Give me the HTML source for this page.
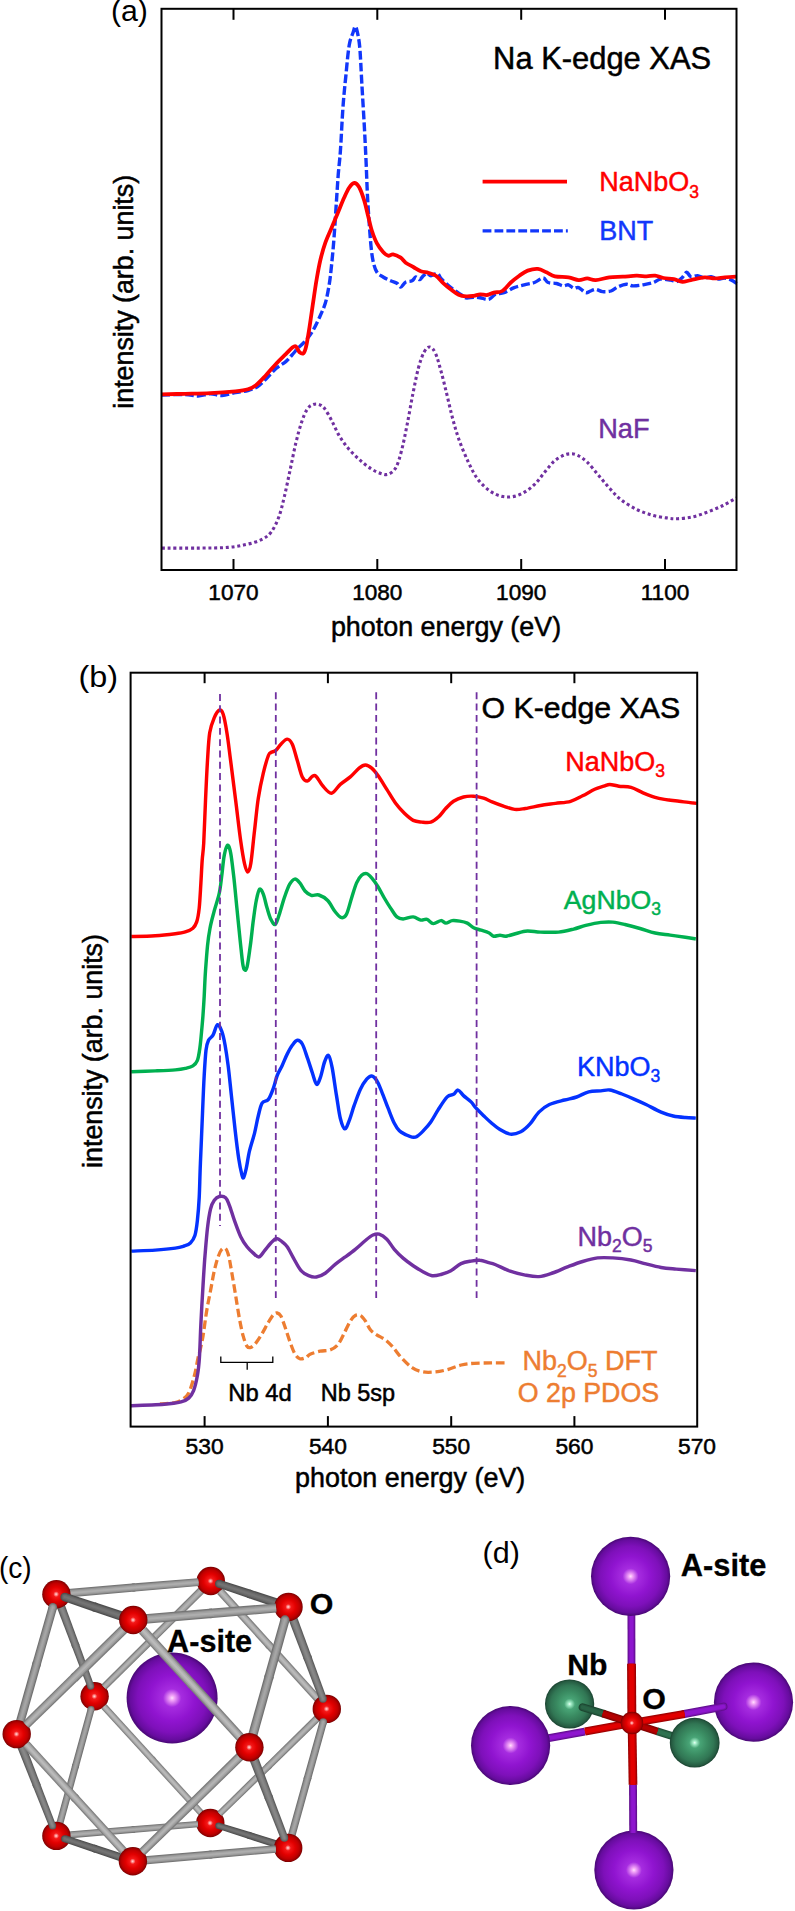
<!DOCTYPE html>
<html><head><meta charset="utf-8"><title>XAS figure</title>
<style>html,body{margin:0;padding:0;background:#fff}svg{display:block}</style></head>
<body>
<svg width="795" height="1911" viewBox="0 0 795 1911" font-family='"Liberation Sans", Arial, Helvetica, sans-serif'>
<defs>
<radialGradient id="gRed" cx="50%" cy="50%" r="50%" fx="49%" fy="50%">
<stop offset="0" stop-color="#ffd8d8"/><stop offset="0.07" stop-color="#ff9c9c"/><stop offset="0.2" stop-color="#f41818"/><stop offset="0.5" stop-color="#e20000"/><stop offset="0.78" stop-color="#c00000"/><stop offset="0.93" stop-color="#980000"/><stop offset="1" stop-color="#700000"/></radialGradient>
<radialGradient id="gPur" cx="50%" cy="50%" r="50%" fx="50%" fy="50%">
<stop offset="0" stop-color="#ffe0ff"/><stop offset="0.05" stop-color="#f4a8f8"/><stop offset="0.2" stop-color="#a62ce0"/><stop offset="0.5" stop-color="#9014d0"/><stop offset="0.76" stop-color="#7e10ba"/><stop offset="0.92" stop-color="#660c9e"/><stop offset="1" stop-color="#480874"/></radialGradient>
<radialGradient id="gGrn" cx="50%" cy="50%" r="50%" fx="50%" fy="50%">
<stop offset="0" stop-color="#f0fff8"/><stop offset="0.06" stop-color="#a8f0cc"/><stop offset="0.22" stop-color="#48a476"/><stop offset="0.5" stop-color="#3a8c62"/><stop offset="0.76" stop-color="#317654"/><stop offset="0.92" stop-color="#265c42"/><stop offset="1" stop-color="#1a4230"/></radialGradient>

</defs>
<rect width="795" height="1911" fill="#fff"/>
<g id="panelA">
<path d="M161.9,548.1C167.9,548.1 186.7,548.2 197.7,548.1C208.7,548.0 219.7,548.0 227.9,547.4C236.1,546.8 241.1,545.6 246.8,544.3C252.5,543.0 257.8,541.5 261.9,539.4C266.0,537.3 268.5,535.7 271.3,531.9C274.1,528.1 276.7,522.8 278.9,516.8C281.1,510.8 282.6,503.9 284.5,496.0C286.4,488.1 288.3,478.4 290.2,469.6C292.1,460.8 293.9,451.1 295.8,443.2C297.7,435.3 299.6,428.2 301.5,422.5C303.4,416.8 305.3,412.2 307.2,409.2C309.1,406.2 310.9,405.5 312.8,404.7C314.7,403.9 316.6,403.7 318.5,404.3C320.4,404.9 322.0,405.4 324.2,408.1C326.4,410.8 329.2,416.0 331.7,420.6C334.2,425.2 336.4,431.0 339.2,435.7C342.0,440.4 345.2,444.8 348.7,448.9C352.2,453.0 356.2,456.9 360.0,460.2C363.8,463.5 367.8,466.7 371.3,468.9C374.8,471.1 378.0,472.5 380.8,473.4C383.6,474.3 385.8,475.1 388.3,474.2C390.8,473.2 393.6,471.6 395.8,467.7C398.0,463.8 399.6,458.0 401.5,450.8C403.4,443.6 405.3,433.7 407.2,424.3C409.1,414.9 410.9,403.6 412.8,394.2C414.7,384.8 416.6,374.8 418.5,367.7C420.4,360.6 422.3,355.3 424.2,351.9C426.1,348.4 427.9,346.8 429.8,347.0C431.7,347.2 433.6,349.3 435.5,353.4C437.4,357.5 439.2,364.7 441.1,371.5C443.0,378.3 444.9,386.4 446.8,394.2C448.7,401.9 450.5,410.5 452.5,418.0C454.5,425.5 456.3,432.0 458.9,439.4C461.5,446.8 465.2,455.5 468.3,462.1C471.4,468.7 474.2,474.4 477.7,479.1C481.2,483.8 485.3,487.6 489.1,490.4C492.9,493.2 496.6,494.9 500.4,496.0C504.2,497.1 507.9,497.3 511.7,496.8C515.5,496.3 519.2,495.0 523.0,493.0C526.8,491.0 530.8,488.0 534.3,484.7C537.8,481.4 540.6,477.2 543.8,473.4C546.9,469.6 550.1,465.1 553.2,462.1C556.3,459.2 559.8,457.1 562.6,455.7C565.4,454.3 567.7,453.9 570.2,453.8C572.7,453.7 574.9,453.9 577.7,455.3C580.5,456.7 583.7,458.8 587.2,462.1C590.7,465.4 594.7,470.9 598.5,475.3C602.3,479.7 606.0,484.4 609.8,488.5C613.6,492.6 616.7,496.4 621.1,499.8C625.5,503.2 631.2,506.7 636.2,509.2C641.2,511.7 646.3,513.4 651.3,514.9C656.3,516.4 662.0,517.3 666.4,517.9C670.8,518.5 673.3,518.9 677.7,518.7C682.1,518.5 687.8,517.9 692.8,516.8C697.8,515.7 702.9,513.8 707.9,511.9C712.9,510.0 718.3,507.8 723.0,505.5C727.7,503.2 734.0,499.2 736.2,497.9" fill="none" stroke="#7030a0" stroke-width="3.1" stroke-dasharray="3 2.8"/>
<path d="M161.3,395.0C165.3,394.9 179.1,394.4 185.2,394.6C191.3,394.8 193.8,396.1 198.0,396.0C202.2,395.9 206.3,393.9 210.3,393.8C214.3,393.7 217.8,395.7 222.0,395.5C226.2,395.3 231.2,393.3 235.5,392.5C239.8,391.7 244.4,391.4 248.0,390.5C251.6,389.6 254.0,388.9 257.0,387.0C260.0,385.1 262.8,382.1 266.0,379.0C269.2,375.9 272.7,371.4 276.0,368.5C279.3,365.6 283.1,363.9 285.8,361.6C288.5,359.4 289.9,357.3 292.0,355.0C294.1,352.7 296.2,350.1 298.4,347.8C300.6,345.5 302.7,344.0 305.1,341.2C307.5,338.4 310.3,334.9 312.6,331.1C314.9,327.3 316.8,323.2 318.9,318.6C321.0,314.0 323.5,309.0 325.2,303.5C326.9,298.0 327.9,292.1 329.0,285.8C330.1,279.5 330.7,273.6 331.5,265.7C332.3,257.8 333.2,249.0 334.0,238.1C334.8,227.2 335.8,210.8 336.5,200.3C337.2,189.8 337.6,183.2 338.2,175.0C338.8,166.8 339.6,162.0 340.4,150.9C341.2,139.8 342.0,120.8 342.9,108.2C343.8,95.6 344.8,86.0 345.9,75.5C346.9,65.0 348.0,52.4 349.2,45.3C350.4,38.2 351.9,35.9 353.0,32.7C354.1,29.6 354.7,26.0 355.5,26.4C356.3,26.8 357.2,31.2 358.0,35.2C358.8,39.2 359.4,42.3 360.0,50.3C360.6,58.3 361.1,70.4 361.8,83.0C362.5,95.6 363.6,113.0 364.3,125.8C365.0,138.6 365.5,149.3 366.0,160.0C366.5,170.7 366.8,181.2 367.2,190.0C367.6,198.8 367.9,204.5 368.5,212.9C369.1,221.3 369.8,232.6 370.5,240.6C371.2,248.6 371.9,255.5 373.0,260.7C374.1,265.9 375.1,269.3 376.8,272.0C378.5,274.7 380.8,275.5 383.1,277.0C385.4,278.5 388.3,279.8 390.6,280.8C392.9,281.9 395.2,282.2 396.9,283.3C398.6,284.4 399.2,287.3 400.7,287.1C402.2,286.9 403.8,283.2 405.7,282.1C407.6,281.1 410.3,281.7 412.0,280.8C413.7,279.9 414.5,277.2 415.8,277.0C417.1,276.8 418.4,279.8 419.6,279.6C420.9,279.4 422.1,276.9 423.3,275.8C424.6,274.8 425.8,273.3 427.1,273.3C428.4,273.3 429.2,275.8 430.9,275.8C432.6,275.8 435.5,272.9 437.2,273.3C438.9,273.7 439.4,276.6 440.9,278.3C442.4,280.0 443.9,281.4 446.0,283.3C448.1,285.2 451.0,287.7 453.5,289.6C456.0,291.5 459.0,293.3 461.1,294.7C463.2,296.1 464.0,297.5 466.1,297.9C468.2,298.3 471.2,297.2 473.6,297.2C476.0,297.2 477.7,297.3 480.2,297.7C482.7,298.1 486.1,300.0 488.7,299.4C491.2,298.8 492.9,295.4 495.5,294.3C498.1,293.2 500.9,293.7 504.0,292.6C507.1,291.5 510.8,288.9 514.2,287.6C517.6,286.3 520.9,285.7 524.3,284.8C527.7,283.9 531.4,283.6 534.5,282.5C537.6,281.4 540.7,278.0 543.0,278.0C545.3,278.0 545.8,281.6 548.1,282.5C550.4,283.4 554.1,282.9 556.6,283.5C559.1,284.1 561.4,285.7 563.4,285.9C565.4,286.1 566.8,284.4 568.5,284.8C570.2,285.2 571.9,287.7 573.6,288.2C575.3,288.7 576.7,286.9 578.7,287.6C580.7,288.3 583.5,292.0 585.5,292.6C587.5,293.2 588.9,291.6 590.6,291.0C592.3,290.4 593.7,289.2 595.7,289.3C597.7,289.4 600.0,291.3 602.5,291.6C605.0,291.9 608.5,291.8 611.0,291.0C613.5,290.2 615.2,288.0 617.8,286.9C620.3,285.8 623.8,284.4 626.3,284.2C628.8,284.0 630.2,285.8 633.0,285.9C635.8,286.0 639.8,285.4 643.2,284.8C646.6,284.2 650.6,283.4 653.4,282.5C656.2,281.6 657.4,279.5 660.2,279.1C663.0,278.7 667.6,279.7 670.4,280.1C673.2,280.5 675.2,281.8 677.2,281.4C679.2,280.9 680.7,278.9 682.3,277.4C683.9,275.9 685.3,272.4 686.7,272.3C688.1,272.2 689.0,276.1 690.8,276.7C692.6,277.3 695.3,275.5 697.6,275.7C699.9,275.9 702.1,277.8 704.4,278.0C706.7,278.2 708.9,276.5 711.2,276.7C713.5,276.9 715.7,278.9 718.0,279.1C720.3,279.3 722.5,277.8 724.8,278.0C727.0,278.2 729.5,279.2 731.5,280.1C733.5,281.0 735.8,282.9 736.6,283.5" fill="none" stroke="#1237fb" stroke-width="3.4" stroke-dasharray="8.8 3.1" stroke-linejoin="round"/>
<path d="M161.3,394.3C165.3,394.2 177.0,394.0 185.2,393.8C193.4,393.6 201.9,393.5 210.3,393.1C218.7,392.7 229.2,391.9 235.5,391.3C241.8,390.7 244.7,390.3 248.0,389.3C251.3,388.3 252.7,387.8 255.6,385.5C258.6,383.2 262.3,379.1 265.7,375.5C269.1,371.9 272.3,367.8 275.7,364.2C279.1,360.6 283.1,356.8 285.8,354.1C288.5,351.4 290.4,349.1 292.1,347.8C293.8,346.5 294.6,345.6 295.8,346.3C297.1,347.1 298.3,351.2 299.6,352.3C300.9,353.4 302.4,354.1 303.5,353.2C304.6,352.3 305.1,350.7 306.0,347.0C306.9,343.3 307.8,337.9 308.9,331.1C310.0,324.3 311.4,314.4 312.6,306.0C313.9,297.6 315.1,288.4 316.4,280.8C317.7,273.2 318.7,267.0 320.2,260.7C321.7,254.4 323.3,248.5 325.2,243.1C327.1,237.7 329.4,233.0 331.5,228.0C333.6,223.0 335.7,217.9 337.8,212.9C339.9,207.9 342.2,202.0 344.1,197.8C346.0,193.6 347.4,190.2 349.1,187.7C350.8,185.2 352.5,183.1 354.2,183.0C355.9,182.9 357.5,184.3 359.2,187.2C360.9,190.1 362.7,195.6 364.2,200.3C365.7,205.0 366.7,210.4 368.0,215.4C369.3,220.4 370.3,225.9 371.8,230.5C373.3,235.1 374.9,239.5 376.8,243.1C378.7,246.7 381.2,249.8 383.1,251.9C385.0,254.0 386.4,255.3 388.1,255.7C389.8,256.1 391.0,254.1 393.1,254.4C395.2,254.7 398.6,256.3 400.7,257.7C402.8,259.1 403.6,261.1 405.7,262.7C407.8,264.2 410.8,265.6 413.3,267.0C415.8,268.4 418.3,270.3 420.8,271.3C423.3,272.3 425.9,272.1 428.4,272.8C430.9,273.6 433.4,274.1 435.9,275.8C438.4,277.6 441.0,281.0 443.5,283.3C446.0,285.6 448.5,287.7 451.0,289.6C453.5,291.5 456.1,293.6 458.6,294.7C461.1,295.8 463.6,296.2 466.1,296.4C468.6,296.6 471.2,296.2 473.6,295.9C476.0,295.5 478.0,294.4 480.2,294.3C482.4,294.2 484.7,295.3 487.0,295.0C489.3,294.7 491.2,293.3 493.8,292.6C496.4,291.9 499.5,292.7 502.3,291.0C505.1,289.3 508.0,285.1 510.8,282.5C513.6,279.9 516.5,277.7 519.3,275.7C522.1,273.7 524.6,271.7 527.7,270.6C530.8,269.5 534.8,268.6 537.9,268.9C541.0,269.2 543.6,271.1 546.4,272.3C549.2,273.5 551.2,275.5 554.9,276.3C558.6,277.1 564.5,276.8 568.5,277.4C572.5,278.0 575.6,279.9 578.7,280.1C581.8,280.3 584.4,278.4 587.2,278.4C590.0,278.4 592.0,280.3 595.7,280.1C599.4,279.9 604.8,278.0 609.3,277.4C613.8,276.8 618.4,277.0 622.9,276.7C627.4,276.4 632.4,275.8 636.4,275.7C640.4,275.6 643.5,276.3 646.6,276.3C649.7,276.3 652.3,275.4 655.1,275.7C657.9,276.0 660.5,277.4 663.6,278.0C666.7,278.6 670.7,278.5 673.8,279.1C676.9,279.7 679.5,281.6 682.3,281.8C685.1,282.0 687.1,280.8 690.8,280.1C694.5,279.4 700.4,277.7 704.4,277.4C708.4,277.1 711.2,278.4 714.6,278.4C718.0,278.4 721.2,277.7 724.8,277.4C728.4,277.1 734.1,276.8 736.0,276.7" fill="none" stroke="#ff0000" stroke-width="3.8" stroke-linejoin="round"/>
<rect x="161.5" y="8.8" width="575.0" height="561.2" fill="none" stroke="#000" stroke-width="2"/>
<line x1="233.5" y1="8.8" x2="233.5" y2="19.8" stroke="#000" stroke-width="2"/>
<line x1="233.5" y1="570" x2="233.5" y2="559" stroke="#000" stroke-width="2"/>
<line x1="377.3" y1="8.8" x2="377.3" y2="19.8" stroke="#000" stroke-width="2"/>
<line x1="377.3" y1="570" x2="377.3" y2="559" stroke="#000" stroke-width="2"/>
<line x1="521.2" y1="8.8" x2="521.2" y2="19.8" stroke="#000" stroke-width="2"/>
<line x1="521.2" y1="570" x2="521.2" y2="559" stroke="#000" stroke-width="2"/>
<line x1="665" y1="8.8" x2="665" y2="19.8" stroke="#000" stroke-width="2"/>
<line x1="665" y1="570" x2="665" y2="559" stroke="#000" stroke-width="2"/>
<text x="233.5" y="599.6" font-size="22.6" text-anchor="middle" stroke="#000" stroke-width="0.5">1070</text>
<text x="377.3" y="599.6" font-size="22.6" text-anchor="middle" stroke="#000" stroke-width="0.5">1080</text>
<text x="521.2" y="599.6" font-size="22.6" text-anchor="middle" stroke="#000" stroke-width="0.5">1090</text>
<text x="665" y="599.6" font-size="22.6" text-anchor="middle" stroke="#000" stroke-width="0.5">1100</text>
<text x="446" y="636" font-size="26.9" text-anchor="middle" stroke="#000" stroke-width="0.5">photon energy (eV)</text>
<text transform="translate(132.5,291.8) rotate(-90)" font-size="26.8" text-anchor="middle" stroke="#000" stroke-width="0.5">intensity (arb. units)</text>
<text x="493.1" y="68.5" font-size="30.9" stroke="#000" stroke-width="0.5">Na K-edge XAS</text>
<line x1="482.6" y1="181.6" x2="567" y2="181.6" stroke="#ff0000" stroke-width="3.6"/>
<line x1="482.6" y1="230.9" x2="567.8" y2="230.9" stroke="#1237fb" stroke-width="3.3" stroke-dasharray="8.8 3.1"/>
<text x="599.2" y="191.4" font-size="27" fill="#ff0000" stroke="#ff0000" stroke-width="0.45">NaNbO<tspan font-size="17.5" dy="6.5">3</tspan></text>
<text x="599.2" y="240.0" font-size="27" fill="#1237fb" stroke="#1237fb" stroke-width="0.45">BNT</text>
<text x="598.2" y="437.5" font-size="27.2" fill="#7030a0" stroke="#7030a0" stroke-width="0.45">NaF</text>
<text x="110.9" y="21" font-size="29" textLength="37" lengthAdjust="spacingAndGlyphs">(a)</text>
</g>
<g id="panelB">
<path d="M160.0,1404.0C162.5,1403.8 171.2,1403.3 175.0,1402.5C178.8,1401.7 180.7,1400.6 183.0,1399.0C185.3,1397.4 186.8,1396.8 188.7,1393.0C190.6,1389.2 192.8,1381.8 194.3,1376.0C195.9,1370.2 197.0,1362.5 198.0,1358.0C199.0,1353.5 199.6,1352.7 200.4,1349.0C201.2,1345.3 201.9,1342.4 203.0,1336.1C204.1,1329.8 205.4,1318.5 206.7,1310.9C207.9,1303.4 209.2,1297.5 210.5,1290.8C211.8,1284.1 213.0,1276.3 214.3,1270.7C215.6,1265.1 216.8,1260.5 218.1,1256.9C219.3,1253.3 220.6,1250.7 221.8,1249.3C223.1,1247.9 224.5,1247.5 225.6,1248.6C226.7,1249.6 227.5,1251.5 228.6,1255.6C229.7,1259.7 230.7,1266.5 231.9,1273.2C233.1,1279.9 234.4,1288.2 235.7,1295.8C236.9,1303.3 238.2,1311.8 239.4,1318.5C240.7,1325.2 241.9,1331.5 243.2,1336.1C244.5,1340.7 245.7,1344.3 247.0,1346.2C248.3,1348.1 249.3,1347.9 250.8,1347.4C252.3,1346.9 253.9,1345.4 255.8,1343.1C257.7,1340.8 260.0,1337.1 262.1,1333.6C264.2,1330.1 266.5,1325.4 268.4,1322.3C270.3,1319.2 271.9,1316.2 273.4,1314.7C274.9,1313.2 275.9,1312.8 277.2,1313.0C278.4,1313.2 279.6,1313.8 280.9,1316.0C282.1,1318.2 283.2,1321.8 284.7,1326.0C286.2,1330.2 288.0,1336.5 289.7,1341.1C291.4,1345.7 293.1,1350.8 294.8,1353.7C296.5,1356.6 297.9,1358.1 299.8,1358.7C301.7,1359.3 304.4,1358.2 306.1,1357.5C307.8,1356.8 307.8,1355.2 310.1,1354.2C312.4,1353.2 316.8,1351.9 320.1,1351.2C323.5,1350.5 327.3,1351.0 330.2,1349.9C333.1,1348.9 335.4,1347.6 337.7,1344.9C340.0,1342.2 341.9,1337.6 344.0,1333.6C346.1,1329.6 348.4,1324.0 350.3,1321.0C352.2,1318.0 353.6,1316.4 355.3,1315.5C357.0,1314.6 358.7,1314.6 360.4,1315.5C362.1,1316.4 363.7,1318.6 365.4,1321.0C367.1,1323.4 368.5,1327.5 370.4,1329.8C372.3,1332.1 374.2,1333.1 376.7,1334.8C379.2,1336.5 382.8,1337.8 385.5,1339.9C388.2,1342.0 390.5,1344.4 393.1,1347.4C395.8,1350.4 398.2,1354.3 401.4,1357.7C404.6,1361.1 408.5,1365.2 412.1,1367.6C415.7,1370.0 418.9,1371.2 422.8,1371.9C426.7,1372.6 431.3,1372.3 435.6,1371.9C439.9,1371.5 444.1,1370.5 448.4,1369.3C452.7,1368.1 457.0,1366.0 461.3,1365.0C465.6,1364.0 469.1,1363.6 474.1,1363.3C479.1,1363.0 485.9,1363.0 491.2,1362.9C496.5,1362.8 503.7,1362.9 506.2,1362.9" fill="none" stroke="#ed7d31" stroke-width="3.3" stroke-dasharray="8.5 3.8" stroke-linejoin="round"/>
<path d="M130.9,1405.7C136.4,1405.5 155.8,1404.8 164.2,1404.2C172.6,1403.6 177.0,1402.9 181.1,1401.9C185.2,1400.9 186.6,1400.0 188.7,1398.1C190.8,1396.2 192.1,1394.4 193.6,1390.6C195.1,1386.8 196.4,1380.9 197.4,1375.5C198.4,1370.1 198.8,1366.7 199.4,1358.0C200.0,1349.3 200.3,1335.5 200.9,1323.5C201.5,1311.5 202.3,1297.1 203.0,1285.8C203.7,1274.5 204.2,1265.2 205.0,1255.6C205.8,1245.9 206.6,1235.7 207.5,1227.9C208.4,1220.2 209.4,1213.7 210.5,1209.1C211.6,1204.5 212.8,1202.4 214.3,1200.3C215.8,1198.2 217.4,1196.9 219.3,1196.5C221.2,1196.1 223.9,1196.2 225.6,1197.7C227.3,1199.2 227.9,1201.5 229.4,1205.3C230.9,1209.1 232.5,1215.2 234.4,1220.4C236.3,1225.6 238.6,1232.3 240.7,1236.7C242.8,1241.1 244.9,1244.1 247.0,1246.8C249.1,1249.5 251.3,1251.4 253.3,1253.1C255.3,1254.8 257.2,1257.3 259.1,1256.9C261.0,1256.5 262.6,1252.9 264.6,1250.6C266.6,1248.3 268.9,1245.0 270.9,1243.0C272.9,1241.0 274.5,1238.7 276.4,1238.5C278.3,1238.3 280.4,1240.4 282.2,1241.8C284.0,1243.2 285.3,1244.1 287.2,1246.8C289.1,1249.5 291.2,1254.1 293.5,1258.1C295.8,1262.1 298.6,1267.8 301.1,1270.7C303.6,1273.6 306.1,1274.7 308.6,1275.7C311.2,1276.8 313.6,1277.4 316.4,1277.0C319.2,1276.6 322.1,1275.3 325.2,1273.2C328.3,1271.1 331.8,1267.1 335.2,1264.4C338.6,1261.7 341.9,1259.4 345.3,1256.9C348.7,1254.4 352.0,1252.0 355.3,1249.3C358.6,1246.6 362.4,1242.9 365.4,1240.5C368.3,1238.1 370.7,1236.0 373.0,1235.0C375.3,1234.0 376.9,1233.5 379.2,1234.2C381.5,1234.9 384.3,1236.7 386.8,1239.2C389.3,1241.7 391.6,1246.2 394.3,1249.3C397.0,1252.4 400.0,1255.4 403.1,1258.1C406.2,1260.8 409.8,1263.4 413.2,1265.7C416.6,1268.0 420.1,1270.2 423.3,1271.9C426.5,1273.6 429.2,1275.3 432.1,1275.7C435.0,1276.1 437.8,1275.3 440.9,1274.5C444.0,1273.7 447.5,1272.5 450.9,1270.7C454.2,1268.9 457.6,1265.2 461.0,1263.6C464.4,1262.0 468.0,1261.6 471.1,1261.1C474.2,1260.5 477.0,1260.0 479.9,1260.3C482.8,1260.5 486.2,1261.9 488.7,1262.6C491.2,1263.3 491.5,1263.1 495.1,1264.5C498.7,1265.9 505.2,1269.4 510.2,1271.2C515.2,1273.0 520.5,1274.2 525.3,1275.1C530.1,1276.0 534.4,1276.9 538.9,1276.6C543.4,1276.2 547.7,1274.6 552.5,1273.0C557.3,1271.4 562.5,1268.8 567.5,1266.9C572.5,1265.0 577.6,1263.0 582.6,1261.5C587.6,1260.0 592.7,1258.5 597.7,1257.9C602.7,1257.3 607.3,1257.6 612.8,1257.9C618.3,1258.2 625.4,1259.0 630.9,1260.0C636.4,1261.0 641.0,1262.7 646.0,1263.9C651.0,1265.2 656.1,1266.6 661.1,1267.5C666.1,1268.4 670.4,1268.6 676.2,1269.1C682.0,1269.6 692.5,1270.3 695.8,1270.6" fill="none" stroke="#7030a0" stroke-width="3.45" stroke-linejoin="round"/>
<path d="M131.3,1251.1C135.3,1250.9 147.9,1250.6 155.2,1250.1C162.5,1249.6 170.5,1248.8 175.3,1248.1C180.1,1247.4 181.6,1246.8 184.1,1246.0C186.6,1245.2 188.6,1244.8 190.4,1243.0C192.2,1241.2 193.7,1239.3 194.9,1235.5C196.1,1231.7 196.7,1226.7 197.4,1220.4C198.1,1214.1 198.7,1207.2 199.2,1197.7C199.7,1188.2 199.8,1177.6 200.4,1163.5C201.0,1149.4 201.9,1127.9 202.5,1113.2C203.1,1098.5 203.6,1086.0 204.2,1075.5C204.8,1065.0 205.3,1056.2 206.0,1050.3C206.7,1044.4 207.3,1042.8 208.5,1040.3C209.7,1037.8 211.5,1037.8 213.0,1035.2C214.5,1032.6 216.0,1025.3 217.5,1024.7C219.0,1024.1 220.5,1028.0 221.8,1031.4C223.1,1034.8 224.1,1039.6 225.1,1045.3C226.1,1051.0 227.0,1057.0 228.1,1065.4C229.2,1073.8 230.2,1084.7 231.4,1095.6C232.6,1106.5 234.0,1120.3 235.2,1130.8C236.4,1141.3 237.6,1151.2 238.7,1158.5C239.8,1165.8 241.1,1171.6 241.9,1174.8C242.7,1178.0 243.0,1178.4 243.7,1177.4C244.4,1176.4 245.2,1173.0 246.2,1168.6C247.2,1164.2 248.1,1156.8 249.5,1150.9C250.9,1145.0 253.0,1139.2 254.5,1133.3C256.0,1127.4 257.0,1120.7 258.3,1115.7C259.6,1110.7 260.4,1105.8 262.1,1103.1C263.8,1100.4 266.5,1101.9 268.4,1099.4C270.3,1096.9 271.9,1092.1 273.4,1088.1C274.9,1084.1 275.7,1079.3 277.2,1075.5C278.7,1071.7 280.5,1069.0 282.2,1065.4C283.9,1061.8 285.5,1057.4 287.2,1054.1C288.9,1050.8 290.6,1047.6 292.3,1045.3C294.0,1043.0 295.6,1040.5 297.3,1040.3C299.0,1040.1 300.6,1041.1 302.3,1044.0C304.0,1046.9 305.7,1053.1 307.4,1057.9C309.1,1062.7 310.9,1068.6 312.4,1073.0C313.9,1077.4 315.3,1083.6 316.6,1084.3C317.9,1085.0 319.0,1081.1 320.4,1077.3C321.8,1073.5 323.3,1065.1 324.7,1061.5C326.1,1057.9 327.4,1054.4 328.6,1055.5C329.9,1056.6 330.9,1061.2 332.2,1067.9C333.5,1074.6 335.1,1087.2 336.5,1095.6C337.9,1104.0 338.9,1112.7 340.3,1118.2C341.7,1123.7 343.3,1128.4 344.8,1128.8C346.3,1129.2 347.6,1124.6 349.1,1120.8C350.7,1117.0 352.2,1111.0 354.1,1105.7C356.0,1100.5 358.3,1093.7 360.4,1089.3C362.5,1084.9 364.8,1081.4 366.7,1079.2C368.6,1077.0 370.0,1075.8 371.7,1076.0C373.4,1076.2 375.0,1077.9 376.7,1080.5C378.4,1083.1 379.9,1087.2 381.8,1091.8C383.7,1096.4 386.0,1103.0 388.1,1108.2C390.2,1113.5 392.4,1119.5 394.3,1123.3C396.2,1127.1 397.5,1128.9 399.4,1130.8C401.3,1132.7 403.6,1133.5 405.7,1134.6C407.8,1135.6 410.1,1136.8 412.0,1137.1C413.9,1137.4 415.1,1137.5 417.0,1136.4C418.9,1135.4 421.0,1133.2 423.3,1130.8C425.6,1128.4 428.3,1125.6 430.8,1122.0C433.3,1118.4 435.7,1113.6 438.4,1109.4C441.1,1105.2 444.7,1099.4 447.2,1096.9C449.7,1094.4 451.7,1095.4 453.5,1094.3C455.3,1093.2 456.3,1089.9 458.0,1090.1C459.7,1090.3 461.3,1093.6 463.5,1095.6C465.7,1097.6 469.0,1099.8 471.1,1101.9C473.2,1104.0 474.0,1105.9 476.1,1108.2C478.2,1110.5 481.1,1113.3 483.6,1115.7C486.1,1118.1 488.5,1120.5 491.2,1122.8C493.9,1125.1 496.4,1127.4 499.6,1129.3C502.8,1131.2 506.7,1133.7 510.2,1134.1C513.7,1134.5 517.5,1133.3 520.8,1131.7C524.1,1130.1 526.8,1127.5 529.8,1124.2C532.8,1120.9 535.6,1115.4 538.9,1112.1C542.2,1108.8 545.1,1106.5 549.4,1104.5C553.7,1102.5 560.0,1101.2 564.5,1100.0C569.0,1098.8 572.6,1098.4 576.6,1097.0C580.6,1095.6 584.7,1092.8 588.7,1091.8C592.7,1090.8 597.3,1091.2 600.8,1090.9C604.3,1090.6 606.3,1089.5 609.8,1090.0C613.3,1090.5 617.9,1092.5 621.9,1094.0C625.9,1095.5 630.0,1097.3 634.0,1099.1C638.0,1100.8 641.5,1102.3 646.0,1104.5C650.5,1106.7 656.6,1110.2 661.1,1112.1C665.6,1114.0 669.2,1115.1 673.2,1116.0C677.2,1116.9 681.5,1117.2 685.3,1117.5C689.1,1117.8 694.0,1118.0 695.8,1118.1" fill="none" stroke="#0432ff" stroke-width="3.45" stroke-linejoin="round"/>
<path d="M131.3,1071.7C135.3,1071.6 147.9,1071.2 155.2,1070.9C162.5,1070.6 170.3,1070.3 175.3,1069.9C180.3,1069.5 182.4,1069.1 185.3,1068.4C188.2,1067.7 190.9,1067.2 192.9,1065.9C194.9,1064.6 196.2,1063.4 197.4,1060.4C198.6,1057.4 199.2,1052.8 199.9,1047.8C200.6,1042.8 201.2,1035.7 201.7,1030.2C202.2,1024.7 202.6,1020.7 203.0,1015.0C203.4,1009.3 203.8,1003.5 204.2,996.1C204.6,988.8 204.9,979.3 205.5,970.9C206.1,962.5 206.8,952.9 207.5,945.8C208.2,938.7 208.9,934.1 210.0,928.2C211.1,922.3 212.8,916.5 214.3,910.6C215.9,904.7 218.1,898.9 219.3,893.0C220.6,887.1 221.0,881.6 221.8,875.3C222.6,869.0 223.3,860.2 224.3,855.2C225.3,850.2 226.6,845.6 227.6,845.2C228.6,844.8 229.6,847.7 230.6,852.7C231.6,857.7 232.5,866.1 233.6,875.3C234.7,884.5 235.8,897.2 236.9,908.1C238.0,919.0 239.2,931.6 240.2,940.8C241.2,950.0 242.0,958.6 242.7,963.4C243.4,968.2 243.8,969.1 244.5,969.7C245.2,970.3 246.0,971.2 247.0,967.2C248.0,963.2 249.2,953.6 250.3,945.8C251.4,938.0 252.3,928.1 253.3,920.6C254.3,913.1 255.2,905.7 256.3,900.5C257.4,895.3 258.4,890.2 259.6,889.2C260.8,888.2 262.1,891.1 263.3,894.2C264.6,897.4 265.8,903.9 267.1,908.1C268.4,912.3 269.5,916.7 270.9,919.4C272.3,922.1 273.9,925.4 275.4,924.4C276.9,923.4 278.1,917.7 279.7,913.1C281.2,908.5 283.0,901.5 284.7,896.7C286.4,891.9 288.0,887.1 289.7,884.2C291.4,881.3 293.1,879.3 294.8,879.1C296.5,878.9 298.1,880.9 299.8,882.9C301.5,884.9 303.1,888.9 305.0,891.0C306.9,893.1 309.0,894.6 311.3,895.3C313.6,896.0 316.2,894.1 318.9,895.0C321.6,895.9 325.0,897.7 327.7,900.5C330.4,903.3 332.9,908.9 335.2,911.8C337.5,914.6 339.6,917.2 341.5,917.6C343.4,918.0 344.8,917.6 346.5,914.3C348.2,911.0 349.9,903.2 351.6,898.0C353.3,892.8 354.9,886.7 356.6,882.9C358.3,879.1 359.9,876.8 361.6,875.3C363.3,873.8 365.0,873.2 366.7,873.6C368.4,874.0 369.8,875.7 371.7,877.9C373.6,880.1 375.9,883.4 378.0,886.7C380.1,890.1 382.2,894.4 384.3,898.0C386.4,901.6 388.5,905.0 390.6,908.1C392.7,911.2 394.8,915.1 396.9,916.9C399.0,918.7 400.4,918.9 403.1,918.9C405.8,918.9 410.2,916.7 413.2,916.9C416.1,917.1 418.5,919.7 420.8,920.1C423.1,920.5 424.9,918.8 427.0,919.4C429.1,920.0 431.0,923.4 433.3,923.6C435.6,923.8 438.8,920.7 440.9,920.6C443.0,920.5 444.0,923.1 445.9,923.1C447.8,923.1 449.9,920.9 452.2,920.6C454.5,920.3 457.2,920.7 459.7,921.1C462.2,921.5 465.0,922.0 467.3,923.1C469.6,924.2 471.3,926.5 473.6,927.7C475.9,928.9 478.6,929.4 481.1,930.2C483.6,931.0 486.6,931.7 488.7,932.7C490.8,933.7 491.8,935.8 493.7,936.2C495.6,936.6 497.8,935.2 500.0,935.2C502.2,935.2 503.0,936.7 507.2,936.0C511.4,935.3 519.8,931.9 525.3,931.2C530.8,930.6 534.9,932.0 540.4,932.1C545.9,932.2 553.0,932.6 558.5,932.1C564.0,931.6 569.1,930.2 573.6,929.1C578.1,928.0 581.2,926.5 585.7,925.4C590.2,924.3 596.3,922.9 600.8,922.4C605.3,921.9 608.8,921.8 612.8,922.1C616.8,922.5 620.4,923.4 624.9,924.5C629.4,925.6 635.0,927.1 640.0,928.5C645.0,929.9 650.1,931.9 655.1,933.0C660.1,934.1 665.2,934.4 670.2,935.1C675.2,935.8 681.0,936.6 685.3,937.2C689.6,937.9 694.0,938.7 695.8,939.0" fill="none" stroke="#00b050" stroke-width="3.45" stroke-linejoin="round"/>
<path d="M131.3,936.5C135.3,936.4 147.9,936.2 155.2,935.7C162.5,935.2 170.3,934.3 175.3,933.7C180.3,933.1 182.4,932.8 185.3,931.9C188.2,931.0 191.0,929.9 192.9,928.2C194.8,926.5 195.6,925.2 196.7,921.9C197.8,918.5 198.5,914.6 199.2,908.1C199.9,901.6 200.4,890.9 200.9,882.9C201.4,874.9 201.7,866.6 202.2,860.0C202.7,853.4 203.1,853.4 203.7,843.5C204.2,833.6 204.9,814.6 205.5,800.8C206.1,787.0 206.8,771.8 207.5,760.5C208.2,749.2 208.6,739.9 209.7,732.8C210.8,725.7 212.7,721.5 214.3,717.7C215.9,713.9 217.8,710.8 219.3,710.2C220.8,709.6 221.8,710.2 223.1,714.0C224.4,717.8 225.7,725.0 226.9,732.8C228.2,740.5 229.1,749.2 230.6,760.5C232.1,771.8 234.0,787.4 235.7,800.8C237.4,814.2 239.2,830.5 240.7,841.0C242.2,851.5 243.3,858.4 244.5,863.6C245.7,868.8 246.6,872.0 247.7,872.0C248.8,872.0 249.7,870.5 250.8,863.6C251.9,856.8 253.2,841.8 254.5,830.9C255.8,820.0 256.8,807.8 258.3,798.2C259.8,788.6 261.6,780.2 263.3,773.1C265.0,766.0 267.1,758.9 268.4,755.5C269.7,752.1 269.6,753.4 270.9,752.5C272.1,751.6 274.2,751.8 275.9,750.4C277.6,749.0 279.0,746.1 280.9,744.2C282.8,742.3 285.3,739.1 287.2,739.1C289.1,739.1 290.6,740.6 292.3,744.2C294.0,747.8 295.6,755.0 297.3,760.5C299.0,766.0 300.6,773.5 302.3,776.9C304.0,780.3 305.7,781.1 307.4,781.0C309.1,780.9 310.9,777.1 312.4,776.3C313.9,775.5 314.5,774.8 316.2,776.4C317.9,778.0 320.1,782.9 322.6,785.7C325.1,788.5 328.4,793.4 331.4,793.2C334.3,793.0 337.1,787.1 340.3,784.4C343.5,781.7 347.2,779.6 350.3,776.9C353.4,774.2 356.6,770.1 359.1,768.1C361.6,766.1 363.3,765.0 365.4,765.0C367.5,765.0 369.6,766.3 371.7,768.1C373.8,769.9 375.5,772.1 378.0,775.6C380.5,779.1 383.9,784.8 386.8,789.4C389.7,794.0 392.7,799.3 395.6,803.3C398.5,807.3 401.5,810.4 404.4,813.3C407.3,816.1 410.3,818.9 413.2,820.4C416.1,821.9 419.1,821.8 422.0,822.1C424.9,822.4 428.1,822.9 430.8,822.1C433.5,821.3 435.9,819.4 438.4,817.1C440.9,814.8 443.4,810.9 445.9,808.3C448.4,805.7 450.6,803.2 453.5,801.3C456.4,799.4 460.1,797.9 463.5,797.0C466.9,796.1 470.2,796.0 473.6,796.2C477.0,796.4 480.5,797.2 483.6,798.2C486.7,799.2 488.7,800.5 492.1,801.9C495.5,803.3 500.4,805.1 504.2,806.4C508.0,807.6 511.2,809.0 514.7,809.4C518.2,809.8 521.0,809.1 525.3,808.5C529.6,807.9 535.4,806.4 540.4,805.5C545.4,804.6 550.5,804.1 555.5,803.4C560.5,802.7 566.1,802.6 570.6,801.3C575.1,800.0 578.6,797.8 582.6,795.8C586.6,793.8 591.2,790.8 594.7,789.2C598.2,787.6 601.3,787.0 603.8,786.2C606.3,785.4 607.3,784.4 609.8,784.4C612.3,784.4 615.4,785.7 618.9,786.2C622.4,786.7 627.0,786.3 631.0,787.4C635.0,788.5 639.0,791.1 643.0,792.8C647.0,794.5 651.1,796.2 655.1,797.4C659.1,798.6 663.2,799.1 667.2,799.8C671.2,800.4 675.2,800.8 679.2,801.3C683.2,801.8 688.4,802.4 691.3,802.8C694.2,803.1 695.9,803.3 696.8,803.4" fill="none" stroke="#ff0000" stroke-width="3.45" stroke-linejoin="round"/>
<line x1="220" y1="694" x2="220" y2="1226" stroke="#7030a0" stroke-width="1.8" stroke-dasharray="6.9 4.4"/>
<line x1="275.8" y1="692.3" x2="275.8" y2="1301" stroke="#7030a0" stroke-width="1.8" stroke-dasharray="6.9 4.4"/>
<line x1="376.2" y1="692.3" x2="376.2" y2="1301" stroke="#7030a0" stroke-width="1.8" stroke-dasharray="6.9 4.4"/>
<line x1="476.6" y1="692.3" x2="476.6" y2="1301" stroke="#7030a0" stroke-width="1.8" stroke-dasharray="6.9 4.4"/>
<rect x="130.6" y="672.7" width="566.6" height="753.8999999999999" fill="none" stroke="#000" stroke-width="2"/>
<line x1="204.6" y1="672.7" x2="204.6" y2="683.2" stroke="#000" stroke-width="2"/>
<line x1="204.6" y1="1426.6" x2="204.6" y2="1416.1" stroke="#000" stroke-width="2"/>
<line x1="327.9" y1="672.7" x2="327.9" y2="683.2" stroke="#000" stroke-width="2"/>
<line x1="327.9" y1="1426.6" x2="327.9" y2="1416.1" stroke="#000" stroke-width="2"/>
<line x1="451.2" y1="672.7" x2="451.2" y2="683.2" stroke="#000" stroke-width="2"/>
<line x1="451.2" y1="1426.6" x2="451.2" y2="1416.1" stroke="#000" stroke-width="2"/>
<line x1="574.4" y1="672.7" x2="574.4" y2="683.2" stroke="#000" stroke-width="2"/>
<line x1="574.4" y1="1426.6" x2="574.4" y2="1416.1" stroke="#000" stroke-width="2"/>
<text x="204.6" y="1453.6" font-size="22.8" text-anchor="middle" stroke="#000" stroke-width="0.5">530</text>
<text x="327.9" y="1453.6" font-size="22.8" text-anchor="middle" stroke="#000" stroke-width="0.5">540</text>
<text x="451.2" y="1453.6" font-size="22.8" text-anchor="middle" stroke="#000" stroke-width="0.5">550</text>
<text x="574.4" y="1453.6" font-size="22.8" text-anchor="middle" stroke="#000" stroke-width="0.5">560</text>
<text x="697" y="1453.6" font-size="22.8" text-anchor="middle" stroke="#000" stroke-width="0.5">570</text>
<text x="410.2" y="1486.8" font-size="26.9" text-anchor="middle" stroke="#000" stroke-width="0.5">photon energy (eV)</text>
<text transform="translate(102.4,1051) rotate(-90)" font-size="26.8" text-anchor="middle" stroke="#000" stroke-width="0.5">intensity (arb. units)</text>
<text x="481.5" y="718.3" font-size="30.3" stroke="#000" stroke-width="0.5">O K-edge XAS</text>
<text x="565.3" y="770.8" font-size="27" fill="#ff0000" stroke="#ff0000" stroke-width="0.45">NaNbO<tspan font-size="17.5" dy="6.5">3</tspan></text>
<text x="563.8" y="908.8" font-size="26.7" fill="#00b050" stroke="#00b050" stroke-width="0.45">AgNbO<tspan font-size="17.5" dy="6.5">3</tspan></text>
<text x="576.9" y="1075.8" font-size="27" fill="#0432ff" stroke="#0432ff" stroke-width="0.45">KNbO<tspan font-size="17.5" dy="6.5">3</tspan></text>
<text x="577.5" y="1245.5" font-size="27" fill="#7030a0" stroke="#7030a0" stroke-width="0.45">Nb<tspan font-size="17.5" dy="6.5">2</tspan><tspan dy="-6.5">O</tspan><tspan font-size="17.5" dy="6.5">5</tspan></text>
<text x="522.5" y="1370.2" font-size="27" fill="#ed7d31" stroke="#ed7d31" stroke-width="0.45">Nb<tspan font-size="17.5" dy="6.5">2</tspan><tspan dy="-6.5">O</tspan><tspan font-size="17.5" dy="6.5">5</tspan><tspan dy="-6.5"> DFT</tspan></text>
<text x="517.7" y="1402.3" font-size="26.8" fill="#ed7d31" stroke="#ed7d31" stroke-width="0.45">O 2p PDOS</text>
<text x="228.3" y="1401.1" font-size="23.8" stroke="#000" stroke-width="0.5">Nb 4d</text>
<text x="320.7" y="1401.1" font-size="23.5" stroke="#000" stroke-width="0.5">Nb 5sp</text>
<path d="M220.8,1356.6V1362.3H272.8V1356.6M247.2,1362.3V1369.8" fill="none" stroke="#000" stroke-width="1.3"/>
<text x="78.4" y="687.2" font-size="29.5" textLength="39.6" lengthAdjust="spacingAndGlyphs">(b)</text>
</g>
<g id="panelC">
<circle cx="94.6" cy="1696.3" r="14.2" fill="url(#gRed)"/>
<path d="M155.93,1758.50L106.49,1704.19L101.38,1708.85L150.99,1763.01Z" fill="#7e7e7e"/><path d="M155.74,1759.49L105.88,1704.75L102.00,1708.29L151.99,1762.91Z" fill="#9a9a9a"/><path d="M155.55,1760.47L105.27,1705.31L102.61,1707.74L152.99,1762.82Z" fill="#afafaf"/><path d="M155.22,1761.59L104.50,1706.01L103.38,1707.04L154.13,1762.58Z" fill="#bbbbbb"/>
<path d="M212.69,1820.82L153.91,1756.29L148.97,1760.80L207.91,1825.18Z" fill="#7e7e7e"/><path d="M212.11,1821.34L152.91,1756.39L149.16,1759.81L208.49,1824.66Z" fill="#9a9a9a"/><path d="M211.54,1821.87L151.91,1756.48L149.35,1758.83L209.06,1824.13Z" fill="#afafaf"/><path d="M210.82,1822.52L150.77,1756.72L149.68,1757.71L209.78,1823.48Z" fill="#bbbbbb"/>
<path d="M151.14,1634.95L101.50,1684.59L106.37,1689.50L156.38,1640.23Z" fill="#797979"/><path d="M152.20,1635.16L102.09,1685.18L105.79,1688.91L156.18,1639.18Z" fill="#949494"/><path d="M153.25,1635.38L102.67,1685.77L105.20,1688.32L155.98,1638.12Z" fill="#a8a8a8"/><path d="M154.47,1635.74L103.40,1686.50L104.47,1687.58L155.62,1636.91Z" fill="#b4b4b4"/>
<circle cx="210.3" cy="1823" r="14.2" fill="url(#gRed)"/>
<path d="M78.47,1768.47L94.38,1710.25L87.70,1708.43L71.74,1766.62Z" fill="#707070"/><circle cx="91.04" cy="1709.34" r="3.46" fill="#707070"/><path d="M77.51,1768.83L93.57,1710.03L88.50,1708.64L72.39,1767.42Z" fill="#888888"/><circle cx="91.04" cy="1709.34" r="2.63" fill="#888888"/><path d="M76.54,1769.18L92.77,1709.81L89.31,1708.86L73.04,1768.22Z" fill="#9b9b9b"/><circle cx="91.04" cy="1709.34" r="1.80" fill="#9b9b9b"/><path d="M75.37,1769.49L91.77,1709.54L90.31,1709.14L73.89,1769.08Z" fill="#a6a6a6"/><circle cx="91.04" cy="1709.34" r="0.76" fill="#a6a6a6"/>
<path d="M221.90,1816.05L272.06,1767.40L267.18,1762.40L217.38,1811.43Z" fill="#797979"/><path d="M221.35,1815.50L271.91,1766.38L268.20,1762.58L217.92,1811.99Z" fill="#949494"/><path d="M220.81,1814.94L271.75,1765.36L269.21,1762.76L218.46,1812.54Z" fill="#a8a8a8"/><path d="M220.13,1814.25L271.45,1764.19L270.37,1763.09L219.14,1813.23Z" fill="#b4b4b4"/>
<path d="M71.35,1645.19L87.56,1687.53L94.04,1685.12L78.60,1642.49Z" fill="#5c5c5c"/><circle cx="90.80" cy="1686.33" r="3.46" fill="#5c5c5c"/><path d="M72.01,1644.31L88.34,1687.24L93.26,1685.41L77.52,1642.26Z" fill="#707070"/><circle cx="90.80" cy="1686.33" r="2.63" fill="#707070"/><path d="M72.67,1643.42L89.11,1686.95L92.48,1685.70L76.44,1642.02Z" fill="#7f7f7f"/><circle cx="90.80" cy="1686.33" r="1.80" fill="#7f7f7f"/><path d="M73.55,1642.45L90.09,1686.59L91.51,1686.06L75.15,1641.86Z" fill="#888888"/><circle cx="90.80" cy="1686.33" r="0.76" fill="#888888"/>
<path d="M132.13,1832.94L198.13,1827.35L197.60,1820.91L131.58,1826.21Z" fill="#757575"/><path d="M131.47,1832.18L198.07,1826.57L197.66,1821.68L131.05,1827.06Z" fill="#8f8f8f"/><path d="M130.80,1831.42L198.00,1825.80L197.73,1822.45L130.51,1827.92Z" fill="#a2a2a2"/><path d="M130.12,1830.46L197.92,1824.84L197.81,1823.42L130.00,1828.98Z" fill="#aeaeae"/>
<path d="M208.00,1578.17L149.02,1637.07L154.26,1642.35L213.60,1583.83Z" fill="#797979"/><path d="M208.67,1578.85L149.22,1638.12L153.20,1642.14L212.93,1583.15Z" fill="#949494"/><path d="M209.34,1579.53L149.42,1639.18L152.15,1641.92L212.26,1582.47Z" fill="#a8a8a8"/><path d="M210.18,1580.38L149.78,1640.39L150.93,1641.56L211.42,1581.62Z" fill="#b4b4b4"/>
<path d="M217.58,1828.85L249.62,1839.26L251.74,1832.54L219.52,1822.69Z" fill="#4e4e4e"/><circle cx="218.55" cy="1825.77" r="3.23" fill="#4e4e4e"/><path d="M217.81,1828.11L250.45,1838.64L252.06,1833.53L219.29,1823.43Z" fill="#5f5f5f"/><circle cx="218.55" cy="1825.77" r="2.46" fill="#5f5f5f"/><path d="M218.05,1827.37L251.27,1838.01L252.38,1834.51L219.06,1824.17Z" fill="#6c6c6c"/><circle cx="218.55" cy="1825.77" r="1.68" fill="#6c6c6c"/><path d="M218.34,1826.45L252.16,1837.18L252.63,1835.70L218.77,1825.09Z" fill="#747474"/><circle cx="218.55" cy="1825.77" r="0.71" fill="#747474"/>
<circle cx="210.8" cy="1581.0" r="14.2" fill="url(#gRed)"/>
<path d="M269.92,1769.49L329.43,1711.58L324.17,1706.22L265.03,1764.50Z" fill="#797979"/><path d="M268.91,1769.32L328.80,1710.94L324.80,1706.86L265.19,1765.52Z" fill="#949494"/><path d="M267.89,1769.14L328.17,1710.29L325.43,1707.51L265.35,1766.54Z" fill="#a8a8a8"/><path d="M266.73,1768.81L327.38,1709.49L326.22,1708.31L265.65,1767.71Z" fill="#b4b4b4"/>
<path d="M217.19,1593.90L266.94,1648.66L272.67,1643.47L223.09,1588.55Z" fill="#7e7e7e"/><path d="M217.89,1593.25L268.03,1648.48L272.39,1644.53L222.38,1589.19Z" fill="#9a9a9a"/><path d="M218.60,1592.61L269.12,1648.30L272.10,1645.60L221.67,1589.83Z" fill="#afafaf"/><path d="M219.49,1591.81L270.38,1647.97L271.65,1646.82L220.79,1590.63Z" fill="#bbbbbb"/>
<path d="M59.80,1836.83L79.26,1765.58L72.53,1763.73L53.00,1834.97Z" fill="#707070"/><path d="M58.99,1836.61L78.61,1764.78L73.49,1763.37L53.81,1835.19Z" fill="#888888"/><path d="M58.17,1836.38L77.96,1763.98L74.46,1763.02L54.63,1835.42Z" fill="#9b9b9b"/><path d="M57.15,1836.10L77.11,1763.12L75.63,1762.71L55.65,1835.70Z" fill="#a6a6a6"/>
<path d="M264.93,1646.44L324.02,1711.42L329.58,1706.38L270.66,1641.24Z" fill="#7e7e7e"/><path d="M265.21,1645.37L324.69,1710.82L328.91,1706.98L269.57,1641.42Z" fill="#9a9a9a"/><path d="M265.50,1644.30L325.35,1710.21L328.25,1707.59L268.48,1641.60Z" fill="#afafaf"/><path d="M265.95,1643.08L326.19,1709.45L327.41,1708.35L267.21,1641.93Z" fill="#bbbbbb"/>
<path d="M56.69,1839.41L135.13,1832.69L134.56,1825.96L56.11,1832.39Z" fill="#757575"/><path d="M56.62,1838.57L135.66,1831.83L135.23,1826.72L56.18,1833.23Z" fill="#8f8f8f"/><path d="M56.55,1837.73L136.19,1830.98L135.89,1827.47L56.25,1834.07Z" fill="#a2a2a2"/><path d="M56.46,1836.67L136.70,1829.92L136.58,1828.43L56.34,1835.13Z" fill="#aeaeae"/>
<circle cx="326.8" cy="1708.9" r="14.2" fill="url(#gRed)"/>
<path d="M132.45,1591.84L198.70,1586.09L198.03,1578.16L131.76,1583.61Z" fill="#757575"/><path d="M131.77,1590.90L198.62,1585.14L198.11,1579.11L131.24,1584.65Z" fill="#8f8f8f"/><path d="M131.09,1589.97L198.54,1584.19L198.19,1580.06L130.73,1585.69Z" fill="#a2a2a2"/><path d="M130.39,1588.78L198.44,1583.00L198.29,1581.25L130.24,1586.97Z" fill="#aeaeae"/>
<circle cx="56.4" cy="1835.9" r="14.2" fill="url(#gRed)"/>
<path d="M217.80,1587.55L249.72,1598.48L252.42,1590.37L220.31,1579.99Z" fill="#4e4e4e"/><circle cx="219.05" cy="1583.77" r="3.98" fill="#4e4e4e"/><path d="M218.10,1586.64L250.62,1597.70L252.67,1591.53L220.01,1580.90Z" fill="#5f5f5f"/><circle cx="219.05" cy="1583.77" r="3.03" fill="#5f5f5f"/><path d="M218.40,1585.73L251.51,1596.91L252.91,1592.69L219.71,1581.80Z" fill="#6c6c6c"/><circle cx="219.05" cy="1583.77" r="2.07" fill="#6c6c6c"/><path d="M218.78,1584.60L252.48,1595.88L253.08,1594.10L219.33,1582.94Z" fill="#747474"/><circle cx="219.05" cy="1583.77" r="0.88" fill="#747474"/>
<path d="M310.75,1780.86L326.86,1722.95L319.62,1720.93L303.45,1778.83Z" fill="#707070"/><circle cx="323.24" cy="1721.94" r="3.75" fill="#707070"/><path d="M309.71,1781.20L325.99,1722.70L320.49,1721.17L304.16,1779.65Z" fill="#888888"/><circle cx="323.24" cy="1721.94" r="2.85" fill="#888888"/><path d="M308.67,1781.53L325.12,1722.46L321.36,1721.41L304.88,1780.47Z" fill="#9b9b9b"/><circle cx="323.24" cy="1721.94" r="1.95" fill="#9b9b9b"/><path d="M307.42,1781.80L324.04,1722.16L322.44,1721.72L305.81,1781.35Z" fill="#a6a6a6"/><circle cx="323.24" cy="1721.94" r="0.83" fill="#a6a6a6"/>
<path d="M52.39,1595.70L72.40,1648.01L79.65,1645.30L60.41,1592.70Z" fill="#5c5c5c"/><path d="M53.36,1595.34L73.48,1648.25L78.99,1646.19L59.44,1593.06Z" fill="#707070"/><path d="M54.32,1594.98L74.56,1648.48L78.33,1647.07L58.48,1593.42Z" fill="#7f7f7f"/><path d="M55.52,1594.53L75.86,1648.64L77.45,1648.04L57.28,1593.87Z" fill="#888888"/>
<path d="M303.23,1657.95L319.48,1700.24L326.51,1697.61L311.02,1655.04Z" fill="#5c5c5c"/><circle cx="323.00" cy="1698.93" r="3.75" fill="#5c5c5c"/><path d="M303.95,1657.04L320.33,1699.93L325.67,1697.93L309.88,1654.82Z" fill="#707070"/><circle cx="323.00" cy="1698.93" r="2.85" fill="#707070"/><path d="M304.68,1656.13L321.17,1699.61L324.83,1698.24L308.73,1654.61Z" fill="#7f7f7f"/><circle cx="323.00" cy="1698.93" r="1.95" fill="#7f7f7f"/><path d="M305.64,1655.13L322.23,1699.22L323.77,1698.64L307.35,1654.49Z" fill="#888888"/><circle cx="323.00" cy="1698.93" r="0.83" fill="#888888"/>
<path d="M56.76,1598.46L135.45,1591.59L134.74,1583.36L56.04,1589.94Z" fill="#757575"/><path d="M56.68,1597.44L135.96,1590.55L135.43,1584.29L56.12,1590.96Z" fill="#8f8f8f"/><path d="M56.59,1596.42L136.47,1589.51L136.11,1585.23L56.21,1591.98Z" fill="#a2a2a2"/><path d="M56.48,1595.14L136.97,1588.22L136.81,1586.41L56.32,1593.26Z" fill="#aeaeae"/>
<path d="M55.88,1824.64L39.67,1782.17L32.34,1785.04L49.31,1827.22Z" fill="#5c5c5c"/><circle cx="52.60" cy="1825.93" r="3.53" fill="#5c5c5c"/><path d="M55.09,1824.95L38.57,1781.95L33.00,1784.14L50.10,1826.91Z" fill="#707070"/><circle cx="52.60" cy="1825.93" r="2.68" fill="#707070"/><path d="M54.31,1825.26L37.47,1781.74L33.66,1783.23L50.89,1826.60Z" fill="#7f7f7f"/><circle cx="52.60" cy="1825.93" r="1.83" fill="#7f7f7f"/><path d="M53.32,1825.64L36.15,1781.61L34.54,1782.24L51.88,1826.21Z" fill="#888888"/><circle cx="52.60" cy="1825.93" r="0.78" fill="#888888"/>
<path d="M246.75,1838.35L287.04,1851.54L289.36,1844.26L248.90,1831.63Z" fill="#4e4e4e"/><path d="M246.43,1837.36L287.32,1850.67L289.08,1845.13L248.07,1832.26Z" fill="#5f5f5f"/><path d="M246.12,1836.37L287.59,1849.79L288.81,1846.01L247.24,1832.88Z" fill="#6c6c6c"/><path d="M245.87,1835.18L287.94,1848.70L288.46,1847.10L246.34,1833.71Z" fill="#747474"/>
<path d="M97.28,1845.44L65.76,1835.32L63.54,1842.02L94.87,1852.70Z" fill="#4e4e4e"/><circle cx="64.65" cy="1838.67" r="3.53" fill="#4e4e4e"/><path d="M97.56,1846.50L65.50,1836.12L63.81,1841.21L95.73,1852.02Z" fill="#5f5f5f"/><circle cx="64.65" cy="1838.67" r="2.68" fill="#5f5f5f"/><path d="M97.84,1847.56L65.23,1836.93L64.08,1840.41L96.59,1851.34Z" fill="#6c6c6c"/><circle cx="64.65" cy="1838.67" r="1.83" fill="#6c6c6c"/><path d="M98.05,1848.84L64.90,1837.93L64.41,1839.41L97.52,1850.44Z" fill="#747474"/><circle cx="64.65" cy="1838.67" r="0.78" fill="#747474"/>
<circle cx="56.4" cy="1594.2" r="14.2" fill="url(#gRed)"/>
<path d="M291.88,1848.92L311.55,1777.97L304.25,1775.94L284.52,1846.88Z" fill="#707070"/><path d="M291.00,1848.68L310.84,1777.15L305.29,1775.61L285.40,1847.12Z" fill="#888888"/><path d="M290.12,1848.43L310.12,1776.33L306.32,1775.27L286.28,1847.37Z" fill="#9b9b9b"/><path d="M289.01,1848.13L309.19,1775.44L307.58,1775.00L287.39,1847.67Z" fill="#a6a6a6"/>
<circle cx="172.1" cy="1698" r="45.5" fill="url(#gPur)"/>
<path d="M48.73,1606.06L31.99,1664.41L40.28,1666.78L56.95,1608.42Z" fill="#707070"/><circle cx="52.84" cy="1607.24" r="4.28" fill="#707070"/><path d="M49.71,1606.34L32.82,1665.27L39.12,1667.07L55.97,1608.13Z" fill="#888888"/><circle cx="52.84" cy="1607.24" r="3.25" fill="#888888"/><path d="M50.70,1606.63L33.65,1666.13L37.96,1667.36L54.98,1607.85Z" fill="#9b9b9b"/><circle cx="52.84" cy="1607.24" r="2.22" fill="#9b9b9b"/><path d="M51.94,1606.98L34.73,1667.06L36.55,1667.58L53.74,1607.50Z" fill="#a6a6a6"/><circle cx="52.84" cy="1607.24" r="0.94" fill="#a6a6a6"/>
<circle cx="288.2" cy="1847.9" r="14.2" fill="url(#gRed)"/>
<path d="M246.87,1597.53L287.05,1611.24L289.95,1602.56L249.58,1589.42Z" fill="#4e4e4e"/><path d="M246.63,1596.37L287.40,1610.20L289.60,1603.60L248.69,1590.20Z" fill="#5f5f5f"/><path d="M246.39,1595.21L287.75,1609.16L289.25,1604.64L247.79,1590.99Z" fill="#6c6c6c"/><path d="M246.22,1593.80L288.18,1607.85L288.82,1605.95L246.82,1592.01Z" fill="#747474"/>
<path d="M97.73,1603.24L66.01,1592.91L63.29,1601.02L94.82,1611.91Z" fill="#4e4e4e"/><circle cx="64.65" cy="1596.97" r="4.28" fill="#4e4e4e"/><path d="M97.95,1604.47L65.69,1593.89L63.62,1600.05L95.74,1611.06Z" fill="#5f5f5f"/><circle cx="64.65" cy="1596.97" r="3.25" fill="#5f5f5f"/><path d="M98.17,1605.70L65.36,1594.86L63.95,1599.08L96.65,1610.21Z" fill="#6c6c6c"/><circle cx="64.65" cy="1596.97" r="2.22" fill="#6c6c6c"/><path d="M98.30,1607.20L64.95,1596.08L64.35,1597.86L97.66,1609.10Z" fill="#747474"/><circle cx="64.65" cy="1596.97" r="0.94" fill="#747474"/>
<path d="M284.22,1608.51L304.28,1660.77L312.07,1657.84L292.78,1605.29Z" fill="#5c5c5c"/><path d="M285.25,1608.12L305.43,1660.98L311.35,1658.75L291.75,1605.68Z" fill="#707070"/><path d="M286.27,1607.74L306.57,1661.19L310.63,1659.67L290.73,1606.06Z" fill="#7f7f7f"/><path d="M287.56,1607.25L307.95,1661.31L309.67,1660.67L289.44,1606.55Z" fill="#888888"/>
<path d="M275.44,1845.22L208.72,1850.77L209.39,1858.68L276.09,1852.84Z" fill="#757575"/><path d="M275.52,1846.13L208.20,1851.77L208.71,1857.79L276.01,1851.92Z" fill="#8f8f8f"/><path d="M275.59,1847.05L207.68,1852.77L208.04,1856.89L275.93,1851.01Z" fill="#a2a2a2"/><path d="M275.69,1848.19L207.19,1854.01L207.34,1855.75L275.84,1849.86Z" fill="#aeaeae"/>
<path d="M40.76,1784.97L20.75,1732.52L12.65,1735.68L33.43,1787.83Z" fill="#5c5c5c"/><path d="M40.10,1785.87L19.78,1732.90L13.62,1735.30L34.53,1788.04Z" fill="#707070"/><path d="M39.44,1786.77L18.81,1733.28L14.59,1734.92L35.62,1788.26Z" fill="#7f7f7f"/><path d="M38.56,1787.76L17.59,1733.75L15.81,1734.45L36.94,1788.39Z" fill="#888888"/>
<path d="M287.96,1836.55L272.21,1794.67L264.31,1797.73L280.83,1839.31Z" fill="#5c5c5c"/><circle cx="284.40" cy="1837.93" r="3.82" fill="#5c5c5c"/><path d="M287.11,1836.88L271.04,1794.48L265.04,1796.80L281.69,1838.98Z" fill="#707070"/><circle cx="284.40" cy="1837.93" r="2.91" fill="#707070"/><path d="M286.25,1837.21L269.88,1794.29L265.77,1795.88L282.54,1838.64Z" fill="#7f7f7f"/><circle cx="284.40" cy="1837.93" r="1.99" fill="#7f7f7f"/><path d="M285.18,1837.62L268.48,1794.19L266.74,1794.86L283.61,1838.23Z" fill="#888888"/><circle cx="284.40" cy="1837.93" r="0.84" fill="#888888"/>
<path d="M32.81,1661.53L12.52,1732.91L20.88,1735.29L41.11,1663.88Z" fill="#707070"/><path d="M33.97,1661.24L13.52,1733.20L19.88,1735.00L40.28,1663.02Z" fill="#888888"/><path d="M35.13,1660.94L14.53,1733.48L18.87,1734.72L39.44,1662.16Z" fill="#9b9b9b"/><path d="M36.54,1660.72L15.78,1733.84L17.62,1734.36L38.36,1661.23Z" fill="#a6a6a6"/>
<path d="M134.20,1857.39L94.43,1844.50L92.02,1851.76L131.60,1865.21Z" fill="#4e4e4e"/><path d="M133.89,1858.33L93.57,1845.18L91.74,1850.70L131.91,1864.27Z" fill="#5f5f5f"/><path d="M133.57,1859.27L92.71,1845.86L91.46,1849.64L132.23,1863.33Z" fill="#6c6c6c"/><path d="M133.19,1860.44L91.78,1846.76L91.25,1848.36L132.61,1862.16Z" fill="#747474"/>
<circle cx="288.5" cy="1606.9" r="14.2" fill="url(#gRed)"/>
<path d="M211.70,1850.51L132.55,1857.20L133.25,1865.40L212.39,1858.43Z" fill="#757575"/><path d="M212.38,1851.41L132.63,1858.18L133.17,1864.42L212.90,1857.43Z" fill="#8f8f8f"/><path d="M213.06,1852.31L132.72,1859.17L133.08,1863.43L213.42,1856.43Z" fill="#a2a2a2"/><path d="M213.76,1853.45L132.82,1860.40L132.98,1862.20L213.91,1855.19Z" fill="#aeaeae"/>
<circle cx="16.7" cy="1734.1" r="14.2" fill="url(#gRed)"/>
<path d="M275.68,1603.47L209.01,1608.87L209.80,1618.28L276.44,1612.58Z" fill="#757575"/><path d="M275.78,1604.56L208.51,1610.05L209.10,1617.20L276.35,1611.49Z" fill="#8f8f8f"/><path d="M275.87,1605.66L208.01,1611.23L208.41,1616.12L276.26,1610.40Z" fill="#a2a2a2"/><path d="M275.98,1607.02L207.53,1612.69L207.70,1614.76L276.15,1609.03Z" fill="#aeaeae"/>
<path d="M78.94,1795.95L29.25,1741.39L22.83,1747.25L72.69,1801.66Z" fill="#7e7e7e"/><path d="M78.59,1797.08L28.48,1742.09L23.60,1746.55L73.84,1801.42Z" fill="#9a9a9a"/><path d="M78.25,1798.21L27.71,1742.80L24.37,1745.85L75.00,1801.18Z" fill="#afafaf"/><path d="M77.71,1799.51L26.74,1743.68L25.33,1744.97L76.34,1800.76Z" fill="#bbbbbb"/>
<path d="M280.54,1618.71L264.11,1677.30L272.98,1679.79L289.34,1621.17Z" fill="#707070"/><circle cx="284.94" cy="1619.94" r="4.57" fill="#707070"/><path d="M281.59,1619.00L265.01,1678.18L271.76,1680.07L288.29,1620.87Z" fill="#888888"/><circle cx="284.94" cy="1619.94" r="3.48" fill="#888888"/><path d="M282.65,1619.30L265.92,1679.05L270.53,1680.35L287.23,1620.58Z" fill="#9b9b9b"/><circle cx="284.94" cy="1619.94" r="2.38" fill="#9b9b9b"/><path d="M283.97,1619.67L267.08,1680.00L269.04,1680.55L285.91,1620.21Z" fill="#a6a6a6"/><circle cx="284.94" cy="1619.94" r="1.01" fill="#a6a6a6"/>
<path d="M135.94,1858.52L76.91,1793.74L70.66,1799.45L129.86,1864.08Z" fill="#7e7e7e"/><path d="M135.21,1859.19L75.76,1793.98L71.01,1798.32L130.59,1863.41Z" fill="#9a9a9a"/><path d="M134.48,1859.86L74.60,1794.22L71.35,1797.19L131.32,1862.74Z" fill="#afafaf"/><path d="M133.57,1860.69L73.26,1794.64L71.89,1795.89L132.23,1861.91Z" fill="#bbbbbb"/>
<path d="M72.85,1672.70L23.00,1721.73L29.07,1727.95L79.29,1679.30Z" fill="#797979"/><path d="M74.06,1673.08L23.73,1722.48L28.34,1727.21L78.95,1678.09Z" fill="#949494"/><path d="M75.26,1673.45L24.46,1723.23L27.62,1726.46L78.61,1676.88Z" fill="#a8a8a8"/><path d="M76.65,1674.02L25.37,1724.16L26.71,1725.53L78.07,1675.47Z" fill="#b4b4b4"/>
<circle cx="132.9" cy="1861.3" r="14.2" fill="url(#gRed)"/>
<path d="M134.85,1615.38L94.88,1602.29L91.97,1610.96L131.75,1624.62Z" fill="#4e4e4e"/><path d="M134.48,1616.49L93.96,1603.14L91.75,1609.73L132.12,1623.51Z" fill="#5f5f5f"/><path d="M134.11,1617.60L93.05,1603.99L91.53,1608.50L132.49,1622.40Z" fill="#6c6c6c"/><path d="M133.64,1618.98L92.04,1605.10L91.40,1607.00L132.96,1621.02Z" fill="#747474"/>
<path d="M145.11,1854.99L195.28,1806.39L189.16,1800.12L139.36,1849.10Z" fill="#797979"/><path d="M144.42,1854.28L194.98,1805.22L190.33,1800.45L140.05,1849.80Z" fill="#949494"/><path d="M143.73,1853.58L194.67,1804.04L191.49,1800.78L140.74,1850.51Z" fill="#a8a8a8"/><path d="M142.87,1852.69L194.18,1802.68L192.84,1801.31L141.60,1851.39Z" fill="#b4b4b4"/>
<path d="M212.00,1608.62L132.89,1615.15L133.71,1624.85L212.79,1618.03Z" fill="#757575"/><path d="M212.69,1609.70L132.99,1616.31L133.61,1623.69L213.29,1616.85Z" fill="#8f8f8f"/><path d="M213.38,1610.78L133.09,1617.48L133.51,1622.52L213.80,1615.67Z" fill="#a2a2a2"/><path d="M214.10,1612.14L133.21,1618.93L133.39,1621.07L214.28,1614.21Z" fill="#aeaeae"/>
<path d="M273.29,1797.48L253.73,1745.63L245.07,1748.97L265.39,1800.52Z" fill="#5c5c5c"/><path d="M272.56,1798.40L252.69,1746.03L246.11,1748.57L266.55,1800.72Z" fill="#707070"/><path d="M271.82,1799.33L251.65,1746.43L247.15,1748.17L267.72,1800.91Z" fill="#7f7f7f"/><path d="M270.86,1800.34L250.35,1746.93L248.45,1747.67L269.12,1801.01Z" fill="#888888"/>
<path d="M129.89,1616.52L70.71,1674.81L77.15,1681.39L136.71,1623.48Z" fill="#797979"/><path d="M130.71,1617.36L71.05,1676.02L75.95,1681.02L135.89,1622.64Z" fill="#949494"/><path d="M131.53,1618.19L71.39,1677.23L74.75,1680.65L135.07,1621.81Z" fill="#a8a8a8"/><path d="M132.55,1619.23L71.93,1678.63L73.35,1680.08L134.05,1620.77Z" fill="#b4b4b4"/>
<path d="M264.91,1674.42L244.93,1746.05L253.87,1748.55L273.79,1676.89Z" fill="#707070"/><path d="M266.14,1674.14L246.00,1746.35L252.80,1748.25L272.89,1676.02Z" fill="#888888"/><path d="M267.37,1673.86L247.07,1746.65L251.73,1747.95L271.98,1675.14Z" fill="#9b9b9b"/><path d="M268.86,1673.65L248.42,1747.03L250.38,1747.57L270.81,1674.19Z" fill="#a6a6a6"/>
<circle cx="133.3" cy="1620.0" r="14.2" fill="url(#gRed)"/>
<path d="M193.14,1808.48L252.65,1750.62L246.15,1743.98L187.01,1802.22Z" fill="#797979"/><path d="M191.98,1808.15L251.87,1749.82L246.93,1744.78L187.32,1803.39Z" fill="#949494"/><path d="M190.81,1807.82L251.09,1749.03L247.71,1745.57L187.63,1804.56Z" fill="#a8a8a8"/><path d="M189.47,1807.30L250.11,1748.03L248.69,1746.57L188.12,1805.92Z" fill="#b4b4b4"/>
<path d="M139.04,1633.50L188.85,1687.96L195.87,1681.55L146.24,1626.94Z" fill="#7e7e7e"/><path d="M139.90,1632.72L190.09,1687.64L195.44,1682.77L145.37,1627.73Z" fill="#9a9a9a"/><path d="M140.77,1631.93L191.34,1687.31L195.00,1683.98L144.51,1628.52Z" fill="#afafaf"/><path d="M141.85,1630.94L192.80,1686.79L194.35,1685.38L143.43,1629.50Z" fill="#bbbbbb"/>
<path d="M186.83,1685.75L245.97,1750.43L252.83,1744.17L193.85,1679.34Z" fill="#7e7e7e"/><path d="M187.26,1684.53L246.79,1749.68L252.01,1744.92L192.61,1679.66Z" fill="#9a9a9a"/><path d="M187.70,1683.32L247.62,1748.93L251.18,1745.67L191.36,1679.99Z" fill="#afafaf"/><path d="M188.35,1681.92L248.65,1747.99L250.15,1746.61L189.90,1680.51Z" fill="#bbbbbb"/>
<circle cx="249.4" cy="1747.3" r="14.2" fill="url(#gRed)"/>
<text x="167.1" y="1651.8" font-size="30.6" font-weight="700" stroke="#000" stroke-width="0.3">A-site</text>
<text x="309.8" y="1613.6" font-size="30.4" font-weight="700" stroke="#000" stroke-width="0.3">O</text>
<text x="-1.1" y="1577.7" font-size="29" textLength="32.8" lengthAdjust="spacingAndGlyphs">(c)</text>
</g>
<g id="panelD">
<circle cx="569.6" cy="1704.0" r="24.6" fill="url(#gGrn)"/>
<circle cx="753.5" cy="1702.2" r="39.6" fill="url(#gPur)"/>
<circle cx="633.9" cy="1870.0" r="39.6" fill="url(#gPur)"/>
<line x1="657.0" y1="1731.3" x2="676.0" y2="1737.2" stroke="#215038" stroke-width="7.80" stroke-linecap="butt"/><line x1="657.0" y1="1731.3" x2="676.0" y2="1737.2" stroke="#296546" stroke-width="5.77" stroke-linecap="butt"/><line x1="657.0" y1="1731.3" x2="676.0" y2="1737.2" stroke="#2f7250" stroke-width="3.74" stroke-linecap="butt"/><line x1="632.0" y1="1723.0" x2="657.3" y2="1731.4" stroke="#7e0000" stroke-width="7.80" stroke-linecap="butt"/><line x1="632.0" y1="1723.0" x2="657.3" y2="1731.4" stroke="#9f0000" stroke-width="5.77" stroke-linecap="butt"/><line x1="632.0" y1="1723.0" x2="657.3" y2="1731.4" stroke="#b40000" stroke-width="3.74" stroke-linecap="butt"/>
<line x1="584.7" y1="1731.6" x2="546.0" y2="1738.6" stroke="#630f90" stroke-width="8.00" stroke-linecap="butt"/><line x1="584.7" y1="1731.6" x2="546.0" y2="1738.6" stroke="#7c13b5" stroke-width="5.92" stroke-linecap="butt"/><line x1="584.7" y1="1731.6" x2="546.0" y2="1738.6" stroke="#8e16ce" stroke-width="3.84" stroke-linecap="butt"/><line x1="632.0" y1="1723.0" x2="585.0" y2="1731.5" stroke="#9e0000" stroke-width="8.00" stroke-linecap="butt"/><line x1="632.0" y1="1723.0" x2="585.0" y2="1731.5" stroke="#c60000" stroke-width="5.92" stroke-linecap="butt"/><line x1="632.0" y1="1723.0" x2="585.0" y2="1731.5" stroke="#e20000" stroke-width="3.84" stroke-linecap="butt"/>
<line x1="684.2" y1="1714.0" x2="723.5" y2="1706.6" stroke="#630f90" stroke-width="8.00" stroke-linecap="round"/><line x1="684.2" y1="1714.0" x2="723.5" y2="1706.6" stroke="#7c13b5" stroke-width="5.92" stroke-linecap="round"/><line x1="684.2" y1="1714.0" x2="723.5" y2="1706.6" stroke="#8e16ce" stroke-width="3.84" stroke-linecap="round"/><line x1="632.0" y1="1723.0" x2="684.5" y2="1714.0" stroke="#9e0000" stroke-width="8.00" stroke-linecap="butt"/><line x1="632.0" y1="1723.0" x2="684.5" y2="1714.0" stroke="#c60000" stroke-width="5.92" stroke-linecap="butt"/><line x1="632.0" y1="1723.0" x2="684.5" y2="1714.0" stroke="#e20000" stroke-width="3.84" stroke-linecap="butt"/>
<line x1="631.4" y1="1612.0" x2="631.5" y2="1664.0" stroke="#630f90" stroke-width="7.80" stroke-linecap="butt"/><line x1="631.4" y1="1612.0" x2="631.5" y2="1664.0" stroke="#7c13b5" stroke-width="5.77" stroke-linecap="butt"/><line x1="631.4" y1="1612.0" x2="631.5" y2="1664.0" stroke="#8e16ce" stroke-width="3.74" stroke-linecap="butt"/><line x1="631.5" y1="1663.7" x2="631.9" y2="1723.0" stroke="#9e0000" stroke-width="8.90" stroke-linecap="butt"/><line x1="631.5" y1="1663.7" x2="631.9" y2="1723.0" stroke="#c60000" stroke-width="6.59" stroke-linecap="butt"/><line x1="631.5" y1="1663.7" x2="631.9" y2="1723.0" stroke="#e20000" stroke-width="4.27" stroke-linecap="butt"/>
<line x1="633.0" y1="1784.4" x2="633.2" y2="1833.0" stroke="#630f90" stroke-width="7.90" stroke-linecap="butt"/><line x1="633.0" y1="1784.4" x2="633.2" y2="1833.0" stroke="#7c13b5" stroke-width="5.85" stroke-linecap="butt"/><line x1="633.0" y1="1784.4" x2="633.2" y2="1833.0" stroke="#8e16ce" stroke-width="3.79" stroke-linecap="butt"/><line x1="632.0" y1="1723.0" x2="633.0" y2="1784.7" stroke="#9e0000" stroke-width="8.70" stroke-linecap="butt"/><line x1="632.0" y1="1723.0" x2="633.0" y2="1784.7" stroke="#c60000" stroke-width="6.44" stroke-linecap="butt"/><line x1="632.0" y1="1723.0" x2="633.0" y2="1784.7" stroke="#e20000" stroke-width="4.18" stroke-linecap="butt"/>
<line x1="582.6" y1="1707.2" x2="603.0" y2="1713.5" stroke="#1d4631" stroke-width="7.90" stroke-linecap="round"/><line x1="582.6" y1="1707.2" x2="603.0" y2="1713.5" stroke="#24583e" stroke-width="5.85" stroke-linecap="round"/><line x1="582.6" y1="1707.2" x2="603.0" y2="1713.5" stroke="#296446" stroke-width="3.79" stroke-linecap="round"/><line x1="602.8" y1="1713.4" x2="632.0" y2="1723.0" stroke="#7e0000" stroke-width="7.90" stroke-linecap="butt"/><line x1="602.8" y1="1713.4" x2="632.0" y2="1723.0" stroke="#9f0000" stroke-width="5.85" stroke-linecap="butt"/><line x1="602.8" y1="1713.4" x2="632.0" y2="1723.0" stroke="#b40000" stroke-width="3.79" stroke-linecap="butt"/>
<circle cx="632.0" cy="1723.0" r="11.2" fill="url(#gRed)"/>
<circle cx="694.7" cy="1742.7" r="24.9" fill="url(#gGrn)"/>
<circle cx="630.6" cy="1576.3" r="39.6" fill="url(#gPur)"/>
<circle cx="510.6" cy="1745.5" r="39.6" fill="url(#gPur)"/>
<text x="680.8" y="1575.5" font-size="30.8" font-weight="700" stroke="#000" stroke-width="0.3">A-site</text>
<text x="567.3" y="1674.7" font-size="30.2" font-weight="700" stroke="#000" stroke-width="0.3">Nb</text>
<text x="642.3" y="1709.3" font-size="30.4" font-weight="700" stroke="#000" stroke-width="0.3">O</text>
<text x="482.5" y="1563" font-size="29" textLength="37.3" lengthAdjust="spacingAndGlyphs">(d)</text>
</g>
</svg>
</body></html>
